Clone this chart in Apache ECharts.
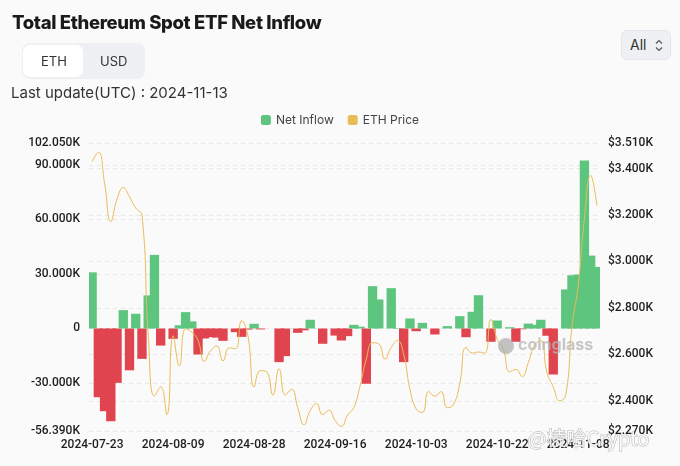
<!DOCTYPE html>
<html>
<head>
<meta charset="utf-8">
<script src="https://cdn.jsdelivr.net/npm/echarts@6/dist/echarts.min.js"></script>
<style>
  html, body { margin: 0; padding: 0; background: #fafafa; }
  #wrap { position: relative; width: 680px; height: 466px; overflow: hidden; background: #fafafa; font-family: Inter, "Noto Sans", sans-serif; }
  #chart { position: absolute; left: 0; top: 0; width: 680px; height: 466px; }
  .title { position: absolute; left: 12px; top: 11px; font-size: 18.5px; font-weight: 800; color: #1a1a1a; letter-spacing: -0.35px; white-space: nowrap; }
  .toggle { position: absolute; left: 22px; top: 43px; width: 123px; height: 36px; border-radius: 8px; background: #eef0f4; }
  .toggle .on { position: absolute; left: 1px; top: 2px; width: 60px; height: 32px; border-radius: 7px; background: #fff; }
  .toggle span { position: absolute; top: 0; line-height: 36px; font-size: 13px; color: #333; }
  .upd { position: absolute; left: 11px; top: 83px; font-size: 15px; color: #333; white-space: nowrap; }
  .all { position: absolute; left: 621px; top: 30px; width: 50px; height: 30px; box-sizing: border-box; border: 1px solid #e4e5ea; border-radius: 6px; background: #eff0f4; font-size: 14px; color: #333; line-height: 28px; padding-left: 8px; }
  .all svg { position: absolute; left: 33px; top: 8px; }
</style>
</head>
<body>
<div id="wrap">
  <div id="chart"></div>
  <div class="title">Total Ethereum Spot ETF Net Inflow</div>
  <div class="toggle"><div class="on"></div><span style="left:19px">ETH</span><span style="left:78px">USD</span></div>
  <div class="upd">Last update(UTC) : 2024-11-13</div>
  <div class="all">All<svg width="8" height="13" viewBox="0 0 8 13"><path d="M1 4.5 L4 1.5 L7 4.5 M1 8.5 L4 11.5 L7 8.5" fill="none" stroke="#555" stroke-width="1.2"/></svg></div>
</div>
<script>
const dates = [
  "2024-07-23","2024-07-24","2024-07-25","2024-07-26","2024-07-29","2024-07-30","2024-07-31","2024-08-01","2024-08-02",
  "2024-08-05","2024-08-06","2024-08-07","2024-08-08","2024-08-09","2024-08-12","2024-08-13","2024-08-14","2024-08-15",
  "2024-08-16","2024-08-19","2024-08-20","2024-08-21","2024-08-22","2024-08-23","2024-08-26","2024-08-27","2024-08-28",
  "2024-08-29","2024-08-30","2024-09-02","2024-09-03","2024-09-04","2024-09-05","2024-09-06","2024-09-09","2024-09-10",
  "2024-09-11","2024-09-12","2024-09-13","2024-09-16","2024-09-17","2024-09-18","2024-09-19","2024-09-20","2024-09-23",
  "2024-09-24","2024-09-25","2024-09-26","2024-09-27","2024-09-30","2024-10-01","2024-10-02","2024-10-03","2024-10-04",
  "2024-10-07","2024-10-08","2024-10-09","2024-10-10","2024-10-11","2024-10-14","2024-10-15","2024-10-16","2024-10-17",
  "2024-10-18","2024-10-21","2024-10-22","2024-10-23","2024-10-24","2024-10-25","2024-10-28","2024-10-29","2024-10-30",
  "2024-10-31","2024-11-01","2024-11-04","2024-11-05","2024-11-06","2024-11-07","2024-11-08","2024-11-11","2024-11-12",
  "2024-11-13"
];
// Net inflow, ETH
const netInflow = [
  30900, -37800, -45500, -51000, -29900, 10100, -23000, 8100, -16700,
  18200, 40500, -9400, 0, -5700, 1800, 9000, 3900, -14300,
  -5500, -4800, -5000, -6800, 0, -2000, -4600, -600, 2600,
  -500, 0, 0, -18500, -15200, 0, -2400, -1000, 4800,
  0, -8400, 0, -3900, -6600, -4200, 2000, 1000, -30400,
  23300, 16000, 0, 22200, 300, -18500, 5500, -1500, 3100,
  0, -3300, 0, 1300, 0, 6800, -4800, 9200, 18300,
  0, -7300, 4400, 0, 700, -7300, -400, 2700, 2000,
  4800, -4000, -25300, 0, 21500, 29300, 29700, 92400, 40100,
  33900
];
// ETH price, USD
const ethPrice = [
  3430, 3470, 3337, 3172, 3268, 3318, 3278, 3230, 3200,
  2690, 2420, 2460, 2340, 2680, 2550, 2710, 2695, 2660,
  2570, 2615, 2636, 2572, 2628, 2624, 2745, 2680, 2460,
  2530, 2525, 2425, 2538, 2425, 2450, 2370, 2297, 2358,
  2388, 2340, 2360, 2315, 2290, 2340, 2370, 2465, 2580,
  2650, 2645, 2580, 2630, 2660, 2600, 2450, 2365, 2350,
  2440, 2420, 2440, 2370, 2385, 2475, 2630, 2605, 2610,
  2605, 2750, 2665, 2620, 2525, 2535, 2505, 2565, 2640,
  2660, 2520, 2460, 2400, 2425, 2720, 2895, 3185, 3370,
  3240
];

const GREEN = '#5ec57f';
const RED = '#e0444f';
const GOLD = '#e9bb55';

const chart = echarts.init(document.getElementById('chart'), null, { renderer: 'canvas' });
const labelFont = { color: '#1e1e1e', fontSize: 12, fontFamily: 'Roboto', fontWeight: 500 };
chart.setOption({
  animation: false,
  backgroundColor: 'transparent',
  legend: {
    top: 109, left: 'center', itemWidth: 10, itemHeight: 10, itemGap: 14,
    textStyle: { color: '#444', fontSize: 12, fontFamily: 'Inter' },
    data: [
      { name: 'Net Inflow', icon: 'roundRect', itemStyle: { color: GREEN } },
      { name: 'ETH Price', icon: 'roundRect', itemStyle: { color: GOLD } }
    ]
  },
  grid: { left: 89, right: 80, top: 143, bottom: 35 },
  xAxis: {
    type: 'category', data: dates, boundaryGap: true,
    axisLine: { show: false }, axisTick: { show: false },
    axisLabel: Object.assign({ interval: 12, margin: 8 }, labelFont)
  },
  yAxis: [
    {
      type: 'value', min: -56390, max: 102050, splitNumber: 5,
      axisLine: { show: false }, axisTick: { show: false },
      splitLine: { lineStyle: { color: '#e7e7e7', type: [4, 4] } },
      axisLabel: Object.assign({ margin: 9, formatter: v => v === 0 ? '0' : (v / 1000).toFixed(3) + 'K' }, labelFont)
    },
    {
      type: 'value', min: 2270, max: 3510, splitNumber: 5, position: 'right',
      axisLine: { show: false }, axisTick: { show: false },
      splitLine: { lineStyle: { color: '#e7e7e7', type: [4, 4] } },
      axisLabel: Object.assign({ margin: 8, formatter: v => '$' + (v / 1000).toFixed(3) + 'K' }, labelFont)
    }
  ],
  series: [
    {
      name: 'Net Inflow', type: 'bar', yAxisIndex: 0, barWidth: '150%',
      itemStyle: { color: GREEN },
      data: netInflow.map(v => ({ value: v, itemStyle: { color: v >= 0 ? GREEN : RED } }))
    },
    {
      name: 'ETH Price', type: 'line', yAxisIndex: 1, smooth: 0.5, showSymbol: false,
      itemStyle: { color: GOLD }, lineStyle: { color: GOLD, width: 1 },
      data: ethPrice, z: 3
    }
  ],
  graphic: [
    { type: 'circle', shape: { cx: 506, cy: 346, r: 8 }, style: { fill: 'rgba(170,170,170,0.7)' }, z: 10 },
    { type: 'text', left: 518, top: 337, style: { text: 'coinglass', fill: 'rgba(180,180,180,0.75)', font: 'bold 16px Inter' }, z: 10 },
    { type: 'text', left: 527, top: 428, style: { text: '@棱哈Crypto', fill: 'rgba(255,255,255,0.85)', stroke: 'rgba(120,120,120,0.55)', lineWidth: 1, font: '20px "Noto Sans CJK SC"' }, z: 10 }
  ]
});
</script>
</body>
</html>
